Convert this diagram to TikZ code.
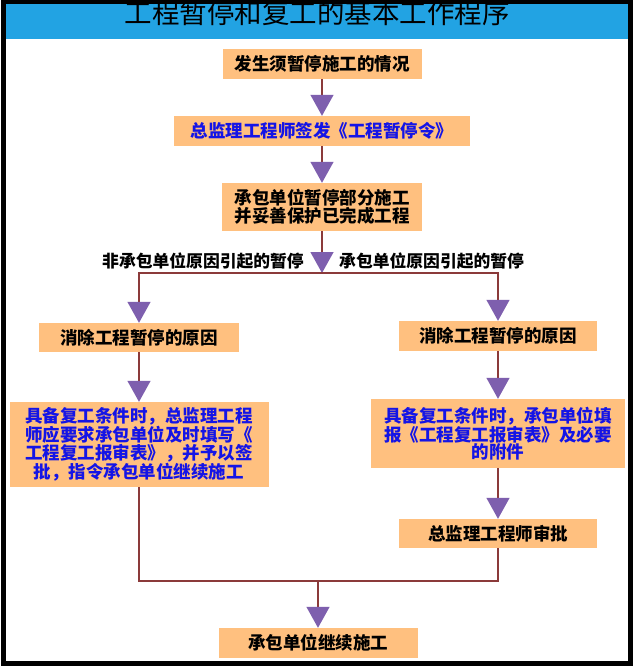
\documentclass[tikz,border=0pt]{standalone}
\usepackage{fontspec}
\setmainfont{Noto Sans CJK SC}
\usetikzlibrary{arrows.meta}
\definecolor{framebar}{HTML}{22A3E3}
\definecolor{boxfill}{HTML}{FFC07F}
\definecolor{linkred}{HTML}{8B3A3A}
\definecolor{tippurple}{HTML}{7E5FAE}
\definecolor{textblue}{HTML}{1414E6}

\begin{document}
\begin{tikzpicture}[x=1pt, y=-1pt,
  stepbox/.style={fill=boxfill, align=center, inner sep=0pt, anchor=center,
    font={\fontsize{17.5}{17.5}\selectfont\bfseries}},
  bluebox/.style={stepbox, text=textblue},
  cause/.style={inner sep=0pt, font={\fontsize{16.8}{16.8}\selectfont\bfseries}},
  link/.style={draw=linkred, line width=1.3pt},
  flow/.style={link, -{Triangle[width=23pt, length=21pt, color=tippurple, fill=tippurple]}}
]
\useasboundingbox (0,0) rectangle (634,667);
\fill[black] (1,0) rectangle (633,666);
\fill[white] (6,4) rectangle (628,661);
\fill[framebar] (6,4) rectangle (628,39);
\node[anchor=base, inner sep=0pt, font={\fontsize{27.5}{27.5}\selectfont}] (title) at (317,23) {工程暂停和复工的基本工作程序};

\node[stepbox, minimum width=199pt, minimum height=30pt] (occur) at (322,64) {发生须暂停施工的情况};
\node[bluebox, minimum width=296pt, minimum height=30pt] (order) at (322,131) {总监理工程师签发《工程暂停令》};
\node[stepbox, minimum width=200pt, minimum height=48pt] (suspend) at (322,207) {承包单位暂停部分施工\\并妥善保护已完成工程};

% the two causes split here
\coordinate (split) at (322,273);
\node[cause, anchor=east] (causeother) at (304,261) {非承包单位原因引起的暂停};
\node[cause, anchor=west] (causeown) at (339,261) {承包单位原因引起的暂停};

\node[stepbox, minimum width=200pt, minimum height=29pt] (clearL) at (139,337.5) {消除工程暂停的原因};
\node[stepbox, minimum width=198pt, minimum height=30pt] (clearR) at (498,336) {消除工程暂停的原因};
\node[bluebox, minimum width=259pt, minimum height=85pt] (resumeL) at (139,444.5) {具备复工条件时，总监理工程\\师应要求承包单位及时填写《\\工程复工报审表》，并予以签\\批，指令承包单位继续施工};
\node[bluebox, minimum width=254pt, minimum height=69pt] (resumeR) at (498,433.5) {具备复工条件时，承包单位填\\报《工程复工报审表》及必要\\的附件};
\node[stepbox, minimum width=198pt, minimum height=29pt] (approve) at (498,533.5) {总监理工程师审批};

\coordinate (merge) at (318,581);
\node[stepbox, minimum width=199pt, minimum height=30pt] (goon) at (318,643) {承包单位继续施工};

\draw[flow] (occur) -- (order);
\draw[flow] (order) -- (suspend);
\draw[flow] (suspend) -- (split);
\draw[flow] (split) -| (clearL);
\draw[flow] (split) -| (clearR);
\draw[flow] (clearL) -- (resumeL);
\draw[flow] (clearR) -- (resumeR);
\draw[flow] (resumeR) -- (approve);
\draw[link] (resumeL) |- (merge);
\draw[link] (approve) |- (merge);
\draw[flow] (merge) -- (goon);
\end{tikzpicture}
\end{document}
